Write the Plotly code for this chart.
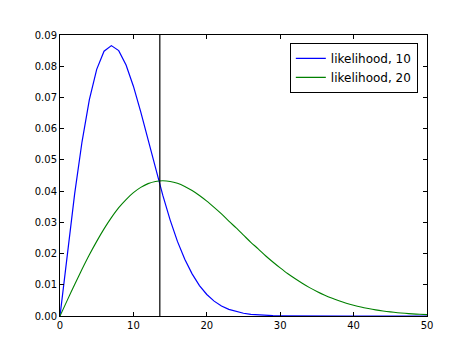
import plotly.graph_objects as go

x_vals = list(range(0, 51))
like_10 = [0.0, 0.0202, 0.0392, 0.0558, 0.0693, 0.0790, 0.0848, 0.0866, 0.0850, 0.0804,
           0.0736, 0.0654, 0.0564, 0.0473, 0.0387, 0.0308, 0.0239, 0.0182, 0.0135, 0.00974,
           0.00689, 0.00476, 0.00321, 0.00212, 0.00137, 0.00087, 0.00054, 0.00032, 0.00019, 0.00011,
           0.00006, 0.00003, 0.00002, 0.00001, 0.0, 0.0, 0.0, 0.0, 0.0, 0.0,
           0.0, 0.0, 0.0, 0.0, 0.0, 0.0, 0.0, 0.0, 0.0, 0.0, 0.0]
like_20 = [0.0, 0.00509, 0.0101, 0.01496, 0.0196, 0.0239, 0.0279, 0.0315, 0.0347, 0.0373,
           0.0395, 0.0412, 0.0424, 0.0431, 0.0433, 0.0431, 0.0425, 0.0415, 0.0402, 0.0386,
           0.0368, 0.0348, 0.0327, 0.0304, 0.0282, 0.0259, 0.0236, 0.0215, 0.0193, 0.0173,
           0.0154, 0.0136, 0.0120, 0.0105, 0.00909, 0.00785, 0.00673, 0.00574, 0.00488, 0.00411,
           0.00344, 0.00286, 0.00238, 0.00196, 0.00161, 0.00131, 0.00106, 0.00086, 0.00069, 0.00055,
           0.00044]
vline_x = 13.6
y_range = [0.0, 0.09]
x_ticks = [0, 10, 20, 30, 40, 50]
y_ticks = [0.00, 0.01, 0.02, 0.03, 0.04, 0.05, 0.06, 0.07, 0.08, 0.09]

fig = go.Figure()
fig.add_trace(go.Scatter(x=x_vals, y=like_10, mode="lines", name="likelihood, 10",
                         line=dict(color="#0000ff", width=1.2)))
fig.add_trace(go.Scatter(x=x_vals, y=like_20, mode="lines", name="likelihood, 20",
                         line=dict(color="#008000", width=1.1, shape="spline", smoothing=0.8)))
fig.add_trace(go.Scatter(x=[vline_x, vline_x], y=y_range, mode="lines", showlegend=False,
                         line=dict(color="black", width=1.2)))

axis_common = dict(showline=True, linecolor="black", linewidth=1, mirror="ticks",
                   ticks="inside", ticklen=4, tickcolor="black", showgrid=False,
                   zeroline=False, tickfont=dict(family="DejaVu Sans", size=10, color="black"))
fig.update_xaxes(range=[0, 50], tickvals=x_ticks, **axis_common)
fig.update_yaxes(range=y_range, tickvals=y_ticks, tickformat=".2f", **axis_common)

fig.update_layout(
    width=474, height=352,
    margin=dict(l=60, r=47, t=35, b=36),
    paper_bgcolor="white", plot_bgcolor="white",
    font=dict(family="DejaVu Sans", color="black"),
    legend=dict(x=0.975, y=0.972, xanchor="right", yanchor="top",
                bordercolor="black", borderwidth=1, bgcolor="white",
                font=dict(family="DejaVu Sans", size=12, color="black"),
                tracegroupgap=0),
)

fig.write_html("out.html")
